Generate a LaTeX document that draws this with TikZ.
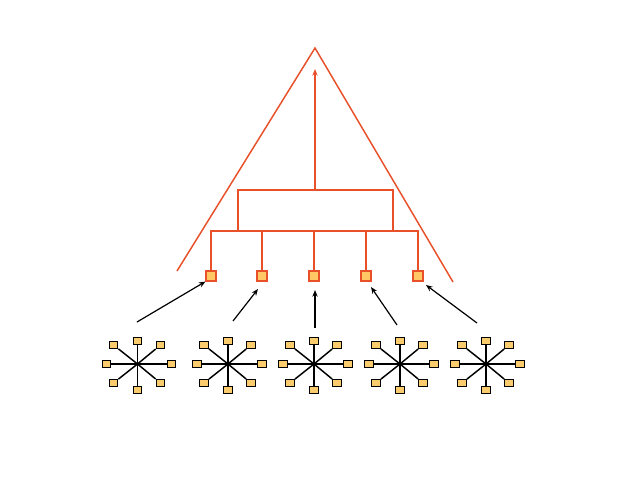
\documentclass[tikz,border=0pt]{standalone}
\usepackage{tikz}
\usetikzlibrary{arrows.meta, positioning}
\definecolor{treered}{RGB}{232,80,42}
\definecolor{portfill}{RGB}{255,200,100}
\definecolor{leaffill}{RGB}{250,204,110}
\tikzstyle{port}=[rectangle, draw=treered, fill=portfill, minimum size=7.5pt, inner sep=0pt, line width=0.8pt]
\tikzstyle{leaf}=[rectangle, draw=black, fill=leaffill, minimum width=6.5pt, minimum height=5.2pt, inner sep=0pt, line width=0.8pt]
\tikzstyle{wire}=[draw=treered, line width=1.1pt]
\tikzstyle{spoke}=[draw=black, line width=1.1pt]
\tikzstyle{feed}=[draw=black, line width=0.9pt, -{Stealth[length=5pt,width=4pt]}]

\begin{document}
\begin{tikzpicture}[x=0.75pt, y=-0.75pt]
    \useasboundingbox (0,0) rectangle (638,478);

    % triangle
    \coordinate (apex) at (315,48);
    \coordinate (baseL) at (177,271);
    \coordinate (baseR) at (453,282);
    \draw[wire] (baseL) -- (apex) -- (baseR);

    % tree inside
    \coordinate (out) at (315,69);
    \coordinate (root) at (315,190);
    \coordinate (topL) at (238,190);
    \coordinate (topR) at (393,190);
    \coordinate (brL) at (238,231);
    \coordinate (brR) at (393,231);
    \draw[wire, -{Stealth[length=5pt,width=4pt]}] (root) -- (out);
    \draw[wire] (brL) -- (topL) -- (topR) -- (brR);

		\node[port] (p1) at (211,276) {};
		\node[port] (p2) at (262,276) {};
		\node[port] (p3) at (314,276) {};
		\node[port] (p4) at (366,276) {};
		\node[port] (p5) at (418,276) {};
    \draw[wire] (p1.north) |- (brL) -- (brR) -| (p5.north);
    \draw[wire] (p2.north) -- (p2.north |- brL);
    \draw[wire] (p3.north) -- (p3.north |- brL);
    \draw[wire] (p4.north) -- (p4.north |- brL);

    % stars
    \foreach \i/\cx in {1/137.5, 2/228, 3/314, 4/400, 5/486} {
      \coordinate (c\i) at (\cx,364);
      \node[leaf] (s\i n)  at (\cx,341) {};
      \node[leaf] (s\i s)  at (\cx,390) {};
      \node[leaf] (s\i w)  at (\cx-31,364) {};
      \node[leaf] (s\i e)  at (\cx+34,364) {};
      \node[leaf] (s\i nw) at (\cx-24,345) {};
      \node[leaf] (s\i ne) at (\cx+23,345) {};
      \node[leaf] (s\i sw) at (\cx-24,383) {};
      \node[leaf] (s\i se) at (\cx+23,383) {};
      \foreach \d in {n, s, w, e, nw, ne, sw, se}
        \draw[spoke] (c\i) -- (s\i \d);
      \fill (c\i) circle (1.8);
    }

    % feeding arrows
    \coordinate (f1) at (137,322);
    \coordinate (f2) at (233,321);
    \coordinate (f3) at (315,328);
    \coordinate (f4) at (397,325);
    \coordinate (f5) at (477,323);
    \draw[feed] (f1) -- (p1.south west);
    \draw[feed] (f2) -- ([shift={(-4,13)}]p2.center);
    \draw[feed] (f3) -- ([shift={(1,14)}]p3.center);
    \draw[feed] (f4) -- ([shift={(5,11)}]p4.center);
    \draw[feed] (f5) -- ([shift={(8,9)}]p5.center);
\end{tikzpicture}
\end{document}
